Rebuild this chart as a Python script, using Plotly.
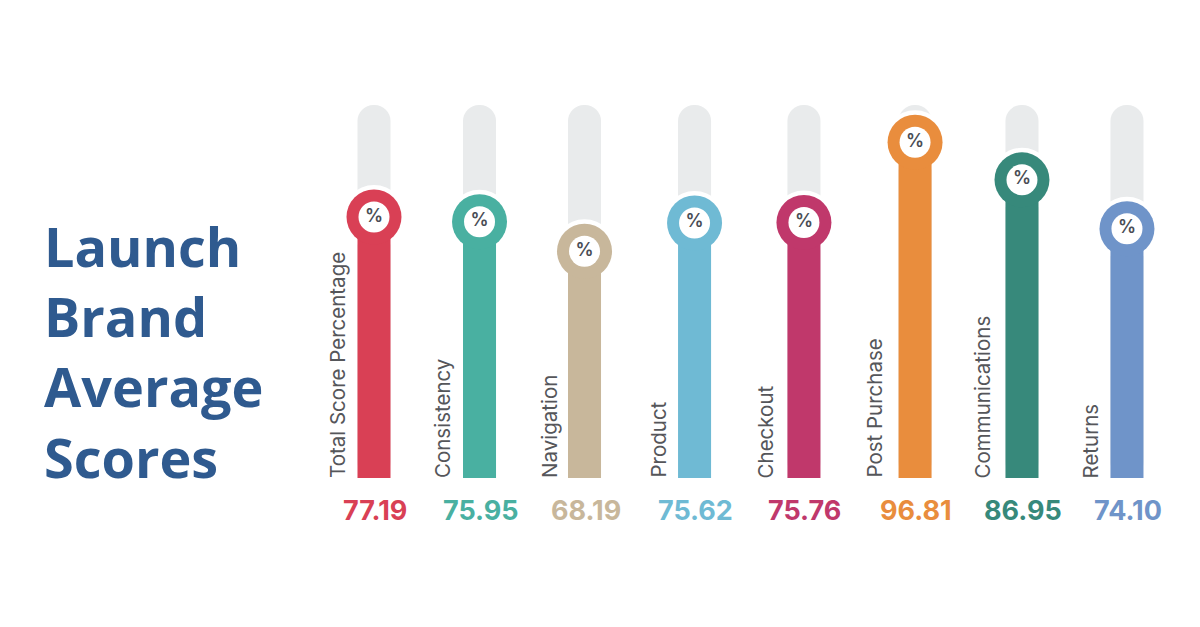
import plotly.graph_objects as go

categories = ["Total Score Percentage", "Consistency", "Navigation", "Product",
              "Checkout", "Post Purchase", "Communications", "Returns"]
scores = [77.19, 75.95, 68.19, 75.62, 75.76, 96.81, 86.95, 74.10]
value_labels = ["77.19", "75.95", "68.19", "75.62", "75.76", "96.81", "86.95", "74.10"]
title_lines = ["Launch", "Brand", "Average", "Scores"]

# layout / style, kept apart from the data
slots = [0, 0.981, 1.957, 2.98, 3.997, 5.03, 6.024, 7]
label_shifts = [-37, -37, -35, -37, -38, -41, -39, -36]
colors = ["#d94055", "#49b0a1", "#c8b79b", "#6fbad4", "#c0386b", "#e98d3d", "#37897b", "#6f94c9"]
AXIS_MIN, AXIS_MAX = 8.66, 106.6
NAVY = "#2f5a8f"
GREY = "#55565a"
PAGE_MARGIN = 8
W, H = 1184, 611
L, R, T, B = 312, 12, 97, 141
plot_w, plot_h = W - L - R, H - T - B

fig = go.Figure()
fig.add_bar(x=slots, y=[AXIS_MAX - AXIS_MIN] * len(slots), base=AXIS_MIN, width=0.307, zorder=0,
            marker=dict(color="#e9ebec", cornerradius=16, line_width=0), hoverinfo="skip")
fig.add_scatter(x=slots, y=scores, mode="markers", cliponaxis=False, hoverinfo="skip", zorder=1,
                marker=dict(size=64, color="white", line_width=0))
fig.add_bar(x=slots, y=[s - AXIS_MIN for s in scores], base=AXIS_MIN, width=0.307, zorder=2,
            marker=dict(color=colors, line_width=0), customdata=categories,
            hovertemplate="%{customdata}<extra></extra>")
fig.add_scatter(x=slots, y=scores, mode="markers", cliponaxis=False, hoverinfo="skip", zorder=3,
                marker=dict(size=55, color=colors, line_width=0))
fig.add_scatter(x=slots, y=scores, mode="markers+text", cliponaxis=False, hoverinfo="skip", zorder=4,
                marker=dict(size=31, color="white", line_width=0),
                text=["%"] * len(slots), textposition="middle center",
                textfont=dict(family="Inter", size=18, color="#4a4d55", weight=600))

annotations = []
for x, cat, lab, col, shift in zip(slots, categories, value_labels, colors, label_shifts):
    annotations.append(dict(x=x, y=AXIS_MIN, xref="x", yref="y", text=cat, textangle=-90,
                            showarrow=False, xanchor="center", yanchor="bottom", xshift=shift,
                            borderpad=0, borderwidth=0,
                            font=dict(family="Inter", size=20.5, color=GREY)))
    annotations.append(dict(x=x, y=AXIS_MIN, xref="x", yref="y", text=lab, showarrow=False,
                            xanchor="center", yanchor="middle", yshift=-32, xshift=1,
                            font=dict(family="Inter", size=27, color=col, weight=700)))

annotations.append(dict(x=(42 - PAGE_MARGIN - L) / plot_w,
                        y=(H - B + PAGE_MARGIN - 351) / plot_h,
                        xref="paper", yref="paper", text="<br>".join(title_lines),
                        showarrow=False, xanchor="left", yanchor="middle", align="left",
                        font=dict(family="Open Sans", size=54, color=NAVY, weight=700)))

fig.update_layout(width=W, height=H, margin=dict(l=L, r=R, t=T, b=B, pad=0),
                  paper_bgcolor="white", plot_bgcolor="white", barmode="overlay",
                  showlegend=False, annotations=annotations,
                  xaxis=dict(range=[-0.502, 7.493], visible=False),
                  yaxis=dict(range=[AXIS_MIN, AXIS_MAX], visible=False))
fig.write_html("out.html", config={"displayModeBar": False})
